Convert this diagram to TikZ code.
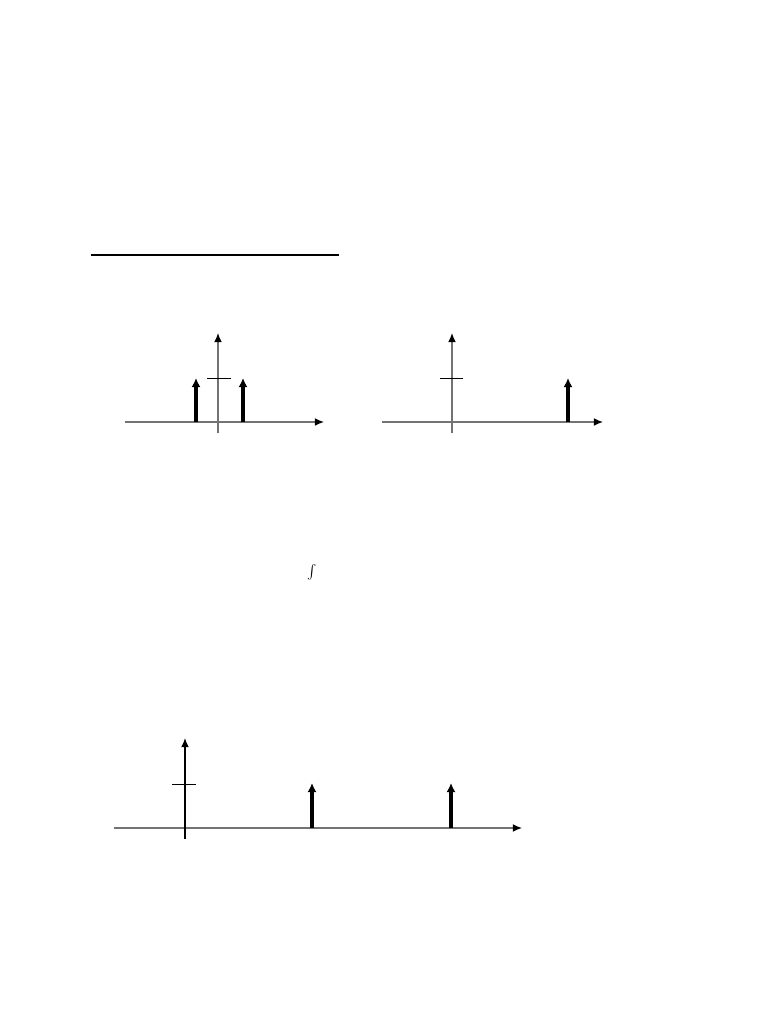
\documentclass[tikz,border=0pt]{standalone}
\usepackage{amssymb}
\usepackage{amsmath}
\usepackage{tikz}
\usetikzlibrary{arrows,arrows.meta}
\pgfdeclarelayer{edgelayer}
\pgfdeclarelayer{nodelayer}
\pgfsetlayers{edgelayer,nodelayer,main}
\tikzstyle{none} = []
\tikzset{axis edge/.style={line width=0.8pt, draw=black!55, -{Latex[length=6.5pt,width=5.5pt,color=black]}}}
\tikzset{dark axis edge/.style={line width=0.8pt, draw=black, -{Latex[length=6.5pt,width=5.5pt]}}}
\tikzstyle{tick edge} = [draw=black, line width=0.7pt]
\tikzset{impulse edge/.style={line width=2.2pt, draw=black, -{Latex[length=6.5pt,width=6.5pt]}}}
\tikzstyle{rule edge} = [draw=black, line width=1pt]

\begin{document}
\begin{tikzpicture}[x=0.025cm, y=-0.025cm]
	\useasboundingbox (0, 0) rectangle (768, 1024);
	\begin{pgfonlayer}{nodelayer}
		\coordinate (0) at (91, 255);
		\coordinate (1) at (339, 255);
		% first plot
		\coordinate (2) at (125, 422);
		\coordinate (3) at (324, 422);
		\coordinate (4) at (218, 433);
		\coordinate (5) at (218, 333);
		\coordinate (6) at (207, 378);
		\coordinate (7) at (231, 378);
		\coordinate (8) at (196, 422);
		\coordinate (9) at (196, 378);
		\coordinate (10) at (243, 422);
		\coordinate (11) at (243, 378);
		% second plot
		\coordinate (12) at (382, 422);
		\coordinate (13) at (603, 422);
		\coordinate (14) at (452, 433);
		\coordinate (15) at (452, 333);
		\coordinate (16) at (440, 378);
		\coordinate (17) at (463, 378);
		\coordinate (18) at (568, 422);
		\coordinate (19) at (568, 378);
		\node [style=none] (20) at (312, 572) {$\int$};
		% third plot
		\coordinate (21) at (114, 828);
		\coordinate (22) at (522, 828);
		\coordinate (23) at (185, 839);
		\coordinate (24) at (185, 738);
		\coordinate (25) at (172, 784);
		\coordinate (26) at (196, 784);
		\coordinate (27) at (312, 828);
		\coordinate (28) at (312, 783);
		\coordinate (29) at (451, 828);
		\coordinate (30) at (451, 783);
	\end{pgfonlayer}
	\begin{pgfonlayer}{edgelayer}
		\draw [style=rule edge] (0) to (1);
		\draw [style=axis edge] (2) to (3);
		\draw [style=axis edge] (4) to (5);
		\draw [style=tick edge] (6) to (7);
		\draw [style=impulse edge] (8) to (9);
		\draw [style=impulse edge] (10) to (11);
		\draw [style=axis edge] (12) to (13);
		\draw [style=axis edge] (14) to (15);
		\draw [style=tick edge] (16) to (17);
		\draw [style=impulse edge] (18) to (19);
		\draw [style=axis edge] (21) to (22);
		\draw [style=dark axis edge] (23) to (24);
		\draw [style=tick edge] (25) to (26);
		\draw [style=impulse edge] (27) to (28);
		\draw [style=impulse edge] (29) to (30);
	\end{pgfonlayer}
\end{tikzpicture}
\end{document}
